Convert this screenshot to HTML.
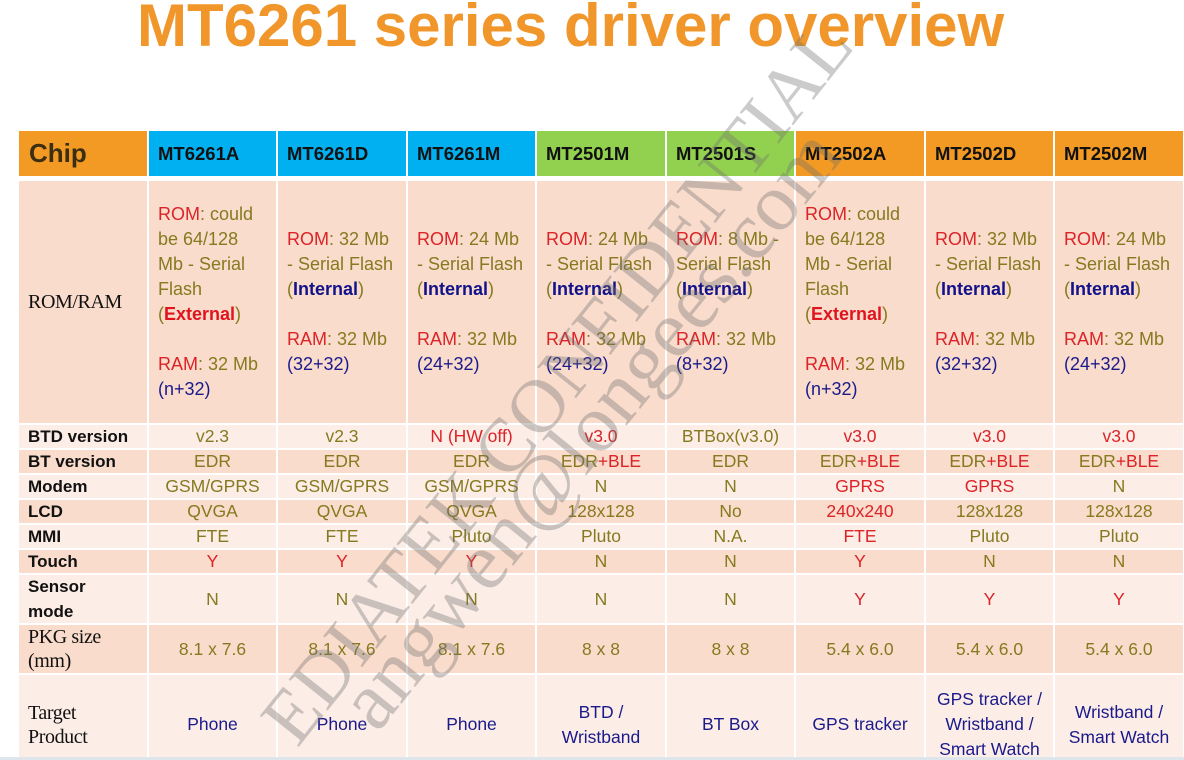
<!DOCTYPE html>
<html>
<head>
<meta charset="utf-8">
<style>
html,body{margin:0;padding:0;width:1184px;height:760px;overflow:hidden;}
body{background:#fff;font-family:"Liberation Sans",sans-serif;}
#pg{position:relative;width:1184px;height:760px;overflow:hidden;background:#fff;}
.title{position:absolute;left:137px;top:0;font-weight:bold;font-size:60px;line-height:52px;height:56px;color:#f0962a;white-space:nowrap;}
.c{position:absolute;display:flex;align-items:center;justify-content:center;text-align:center;white-space:nowrap;font-size:17.5px;line-height:25px;color:#857a1f;box-sizing:border-box;overflow:hidden;}
.d{background:#f9dccb;}
.w{background:#fcede6;}
.hb{background:#00b0f0;}
.hg{background:#92d050;}
.ho{background:#f29a23;}
.h{font-weight:bold;color:#111;font-size:18.5px;justify-content:flex-start;padding-left:9px;}
.chip{font-weight:bold;color:#3b2e12;font-size:26px;justify-content:flex-start;padding-left:10px;}
.lab{justify-content:flex-start;padding-left:9px;text-align:left;color:#111;font-weight:bold;font-size:17px;}
.ser{font-family:"Liberation Serif",serif;font-weight:normal;font-size:20px;line-height:24px;letter-spacing:-0.4px;}
.rom{justify-content:flex-start;padding-left:9px;text-align:left;font-size:18px;line-height:25px;}
.red{color:#dc2328;}
.blu{color:#1a1a8c;}
.rb{color:#e0141e;font-weight:bold;}
.bb{color:#12128a;font-weight:bold;}
.x0{left:19px;width:128px;}
.x1{left:149px;width:127px;}
.x2{left:278px;width:128px;}
.x3{left:408px;width:127px;}
.x4{left:537px;width:128px;}
.x5{left:667px;width:127px;}
.x6{left:796px;width:128px;}
.x7{left:926px;width:127px;}
.x8{left:1055px;width:128px;}
.y0{top:131px;height:45px;}
.y1{top:181px;height:242px;}
.y2{top:425px;height:23px;}
.y3{top:450px;height:23px;}
.y4{top:475px;height:23px;}
.y5{top:500px;height:23px;}
.y6{top:525px;height:23px;}
.y7{top:550px;height:23px;}
.y8{top:575px;height:48px;}
.y9{top:625px;height:48px;}
.y10{top:675px;height:82px;align-items:flex-start;}
.p1{padding-top:37px;}
.p2{padding-top:25px;}
.p3{padding-top:12px;}
.pl{padding-top:26px;}
.strip{position:absolute;left:0;top:757px;width:1184px;height:3px;background:#dfe6eb;z-index:5;}
.wm{position:absolute;z-index:10;font-family:"Liberation Serif",serif;color:rgba(110,110,110,0.36);white-space:nowrap;width:max-content;padding:0;margin:0;transform-origin:50% 50%;}
</style>
</head>
<body>
<div id="pg">

<div class="title">MT6261 series driver overview</div>

<!-- Header row -->
<div class="c chip ho x0 y0">Chip</div>
<div class="c h hb x1 y0">MT6261A</div>
<div class="c h hb x2 y0">MT6261D</div>
<div class="c h hb x3 y0">MT6261M</div>
<div class="c h hg x4 y0">MT2501M</div>
<div class="c h hg x5 y0">MT2501S</div>
<div class="c h ho x6 y0">MT2502A</div>
<div class="c h ho x7 y0">MT2502D</div>
<div class="c h ho x8 y0">MT2502M</div>

<!-- ROM/RAM row -->
<div class="c lab ser d x0 y1">ROM/RAM</div>
<div class="c rom d x1 y1"><div><span class="red">ROM</span>: could<br>be 64/128<br>Mb - Serial<br>Flash<br>(<span class="rb">External</span>)<br>&nbsp;<br><span class="red">RAM</span>: 32 Mb<br><span class="blu">(n+32)</span></div></div>
<div class="c rom d x2 y1"><div><span class="red">ROM</span>: 32 Mb<br>- Serial Flash<br>(<span class="bb">Internal</span>)<br>&nbsp;<br><span class="red">RAM</span>: 32 Mb<br><span class="blu">(32+32)</span></div></div>
<div class="c rom d x3 y1"><div><span class="red">ROM</span>: 24 Mb<br>- Serial Flash<br>(<span class="bb">Internal</span>)<br>&nbsp;<br><span class="red">RAM</span>: 32 Mb<br><span class="blu">(24+32)</span></div></div>
<div class="c rom d x4 y1"><div><span class="red">ROM</span>: 24 Mb<br>- Serial Flash<br>(<span class="bb">Internal</span>)<br>&nbsp;<br><span class="red">RAM</span>: 32 Mb<br><span class="blu">(24+32)</span></div></div>
<div class="c rom d x5 y1"><div><span class="red">ROM</span>: 8 Mb -<br>Serial Flash<br>(<span class="bb">Internal</span>)<br>&nbsp;<br><span class="red">RAM</span>: 32 Mb<br><span class="blu">(8+32)</span></div></div>
<div class="c rom d x6 y1"><div><span class="red">ROM</span>: could<br>be 64/128<br>Mb - Serial<br>Flash<br>(<span class="rb">External</span>)<br>&nbsp;<br><span class="red">RAM</span>: 32 Mb<br><span class="blu">(n+32)</span></div></div>
<div class="c rom d x7 y1"><div><span class="red">ROM</span>: 32 Mb<br>- Serial Flash<br>(<span class="bb">Internal</span>)<br>&nbsp;<br><span class="red">RAM</span>: 32 Mb<br><span class="blu">(32+32)</span></div></div>
<div class="c rom d x8 y1"><div><span class="red">ROM</span>: 24 Mb<br>- Serial Flash<br>(<span class="bb">Internal</span>)<br>&nbsp;<br><span class="red">RAM</span>: 32 Mb<br><span class="blu">(24+32)</span></div></div>

<!-- BTD version -->
<div class="c lab w x0 y2">BTD version</div>
<div class="c w x1 y2">v2.3</div>
<div class="c w x2 y2">v2.3</div>
<div class="c w x3 y2 red">N (HW off)</div>
<div class="c w x4 y2 red">v3.0</div>
<div class="c w x5 y2">BTBox(v3.0)</div>
<div class="c w x6 y2 red">v3.0</div>
<div class="c w x7 y2 red">v3.0</div>
<div class="c w x8 y2 red">v3.0</div>

<!-- BT version -->
<div class="c lab d x0 y3">BT version</div>
<div class="c d x1 y3">EDR</div>
<div class="c d x2 y3">EDR</div>
<div class="c d x3 y3">EDR</div>
<div class="c d x4 y3"><span>EDR<span class="red">+BLE</span></span></div>
<div class="c d x5 y3">EDR</div>
<div class="c d x6 y3"><span>EDR<span class="red">+BLE</span></span></div>
<div class="c d x7 y3"><span>EDR<span class="red">+BLE</span></span></div>
<div class="c d x8 y3"><span>EDR<span class="red">+BLE</span></span></div>

<!-- Modem -->
<div class="c lab w x0 y4">Modem</div>
<div class="c w x1 y4">GSM/GPRS</div>
<div class="c w x2 y4">GSM/GPRS</div>
<div class="c w x3 y4">GSM/GPRS</div>
<div class="c w x4 y4">N</div>
<div class="c w x5 y4">N</div>
<div class="c w x6 y4 red">GPRS</div>
<div class="c w x7 y4 red">GPRS</div>
<div class="c w x8 y4">N</div>

<!-- LCD -->
<div class="c lab d x0 y5">LCD</div>
<div class="c d x1 y5">QVGA</div>
<div class="c d x2 y5">QVGA</div>
<div class="c d x3 y5">QVGA</div>
<div class="c d x4 y5">128x128</div>
<div class="c d x5 y5">No</div>
<div class="c d x6 y5 red">240x240</div>
<div class="c d x7 y5">128x128</div>
<div class="c d x8 y5">128x128</div>

<!-- MMI -->
<div class="c lab w x0 y6">MMI</div>
<div class="c w x1 y6">FTE</div>
<div class="c w x2 y6">FTE</div>
<div class="c w x3 y6">Pluto</div>
<div class="c w x4 y6">Pluto</div>
<div class="c w x5 y6">N.A.</div>
<div class="c w x6 y6 red">FTE</div>
<div class="c w x7 y6">Pluto</div>
<div class="c w x8 y6">Pluto</div>

<!-- Touch -->
<div class="c lab d x0 y7">Touch</div>
<div class="c d x1 y7 red">Y</div>
<div class="c d x2 y7 red">Y</div>
<div class="c d x3 y7 red">Y</div>
<div class="c d x4 y7">N</div>
<div class="c d x5 y7">N</div>
<div class="c d x6 y7 red">Y</div>
<div class="c d x7 y7">N</div>
<div class="c d x8 y7">N</div>

<!-- Sensor mode -->
<div class="c lab w x0 y8"><div>Sensor<br>mode</div></div>
<div class="c w x1 y8">N</div>
<div class="c w x2 y8">N</div>
<div class="c w x3 y8">N</div>
<div class="c w x4 y8">N</div>
<div class="c w x5 y8">N</div>
<div class="c w x6 y8 red">Y</div>
<div class="c w x7 y8 red">Y</div>
<div class="c w x8 y8 red">Y</div>

<!-- PKG size -->
<div class="c lab ser d x0 y9"><div>PKG size<br>(mm)</div></div>
<div class="c d x1 y9">8.1 x 7.6</div>
<div class="c d x2 y9">8.1 x 7.6</div>
<div class="c d x3 y9">8.1 x 7.6</div>
<div class="c d x4 y9">8 x 8</div>
<div class="c d x5 y9">8 x 8</div>
<div class="c d x6 y9">5.4 x 6.0</div>
<div class="c d x7 y9">5.4 x 6.0</div>
<div class="c d x8 y9">5.4 x 6.0</div>

<!-- Target Product -->
<div class="c lab ser w x0 y10 pl"><div>Target<br>Product</div></div>
<div class="c w x1 y10 blu p1">Phone</div>
<div class="c w x2 y10 blu p1">Phone</div>
<div class="c w x3 y10 blu p1">Phone</div>
<div class="c w x4 y10 blu p2"><div>BTD /<br>Wristband</div></div>
<div class="c w x5 y10 blu p1">BT Box</div>
<div class="c w x6 y10 blu p1">GPS tracker</div>
<div class="c w x7 y10 blu p3"><div style="height:70px;overflow:hidden;">GPS tracker /<br>Wristband /<br>Smart Watch</div></div>
<div class="c w x8 y10 blu p2"><div>Wristband /<br>Smart Watch</div></div>

<div class="strip"></div>

<!-- Watermark -->
<div class="wm" style="left:557px;top:382px;font-size:76px;line-height:56px;height:56px;transform:translate(-50%,-50%) rotate(-51.5deg);">EDIATEK CONFIDENTIAL</div>
<div class="wm" style="left:590px;top:428px;font-size:82px;line-height:60px;height:60px;transform:translate(-50%,-50%) rotate(-51deg);">angwen@longees.com</div>

</div>
</body>
</html>
